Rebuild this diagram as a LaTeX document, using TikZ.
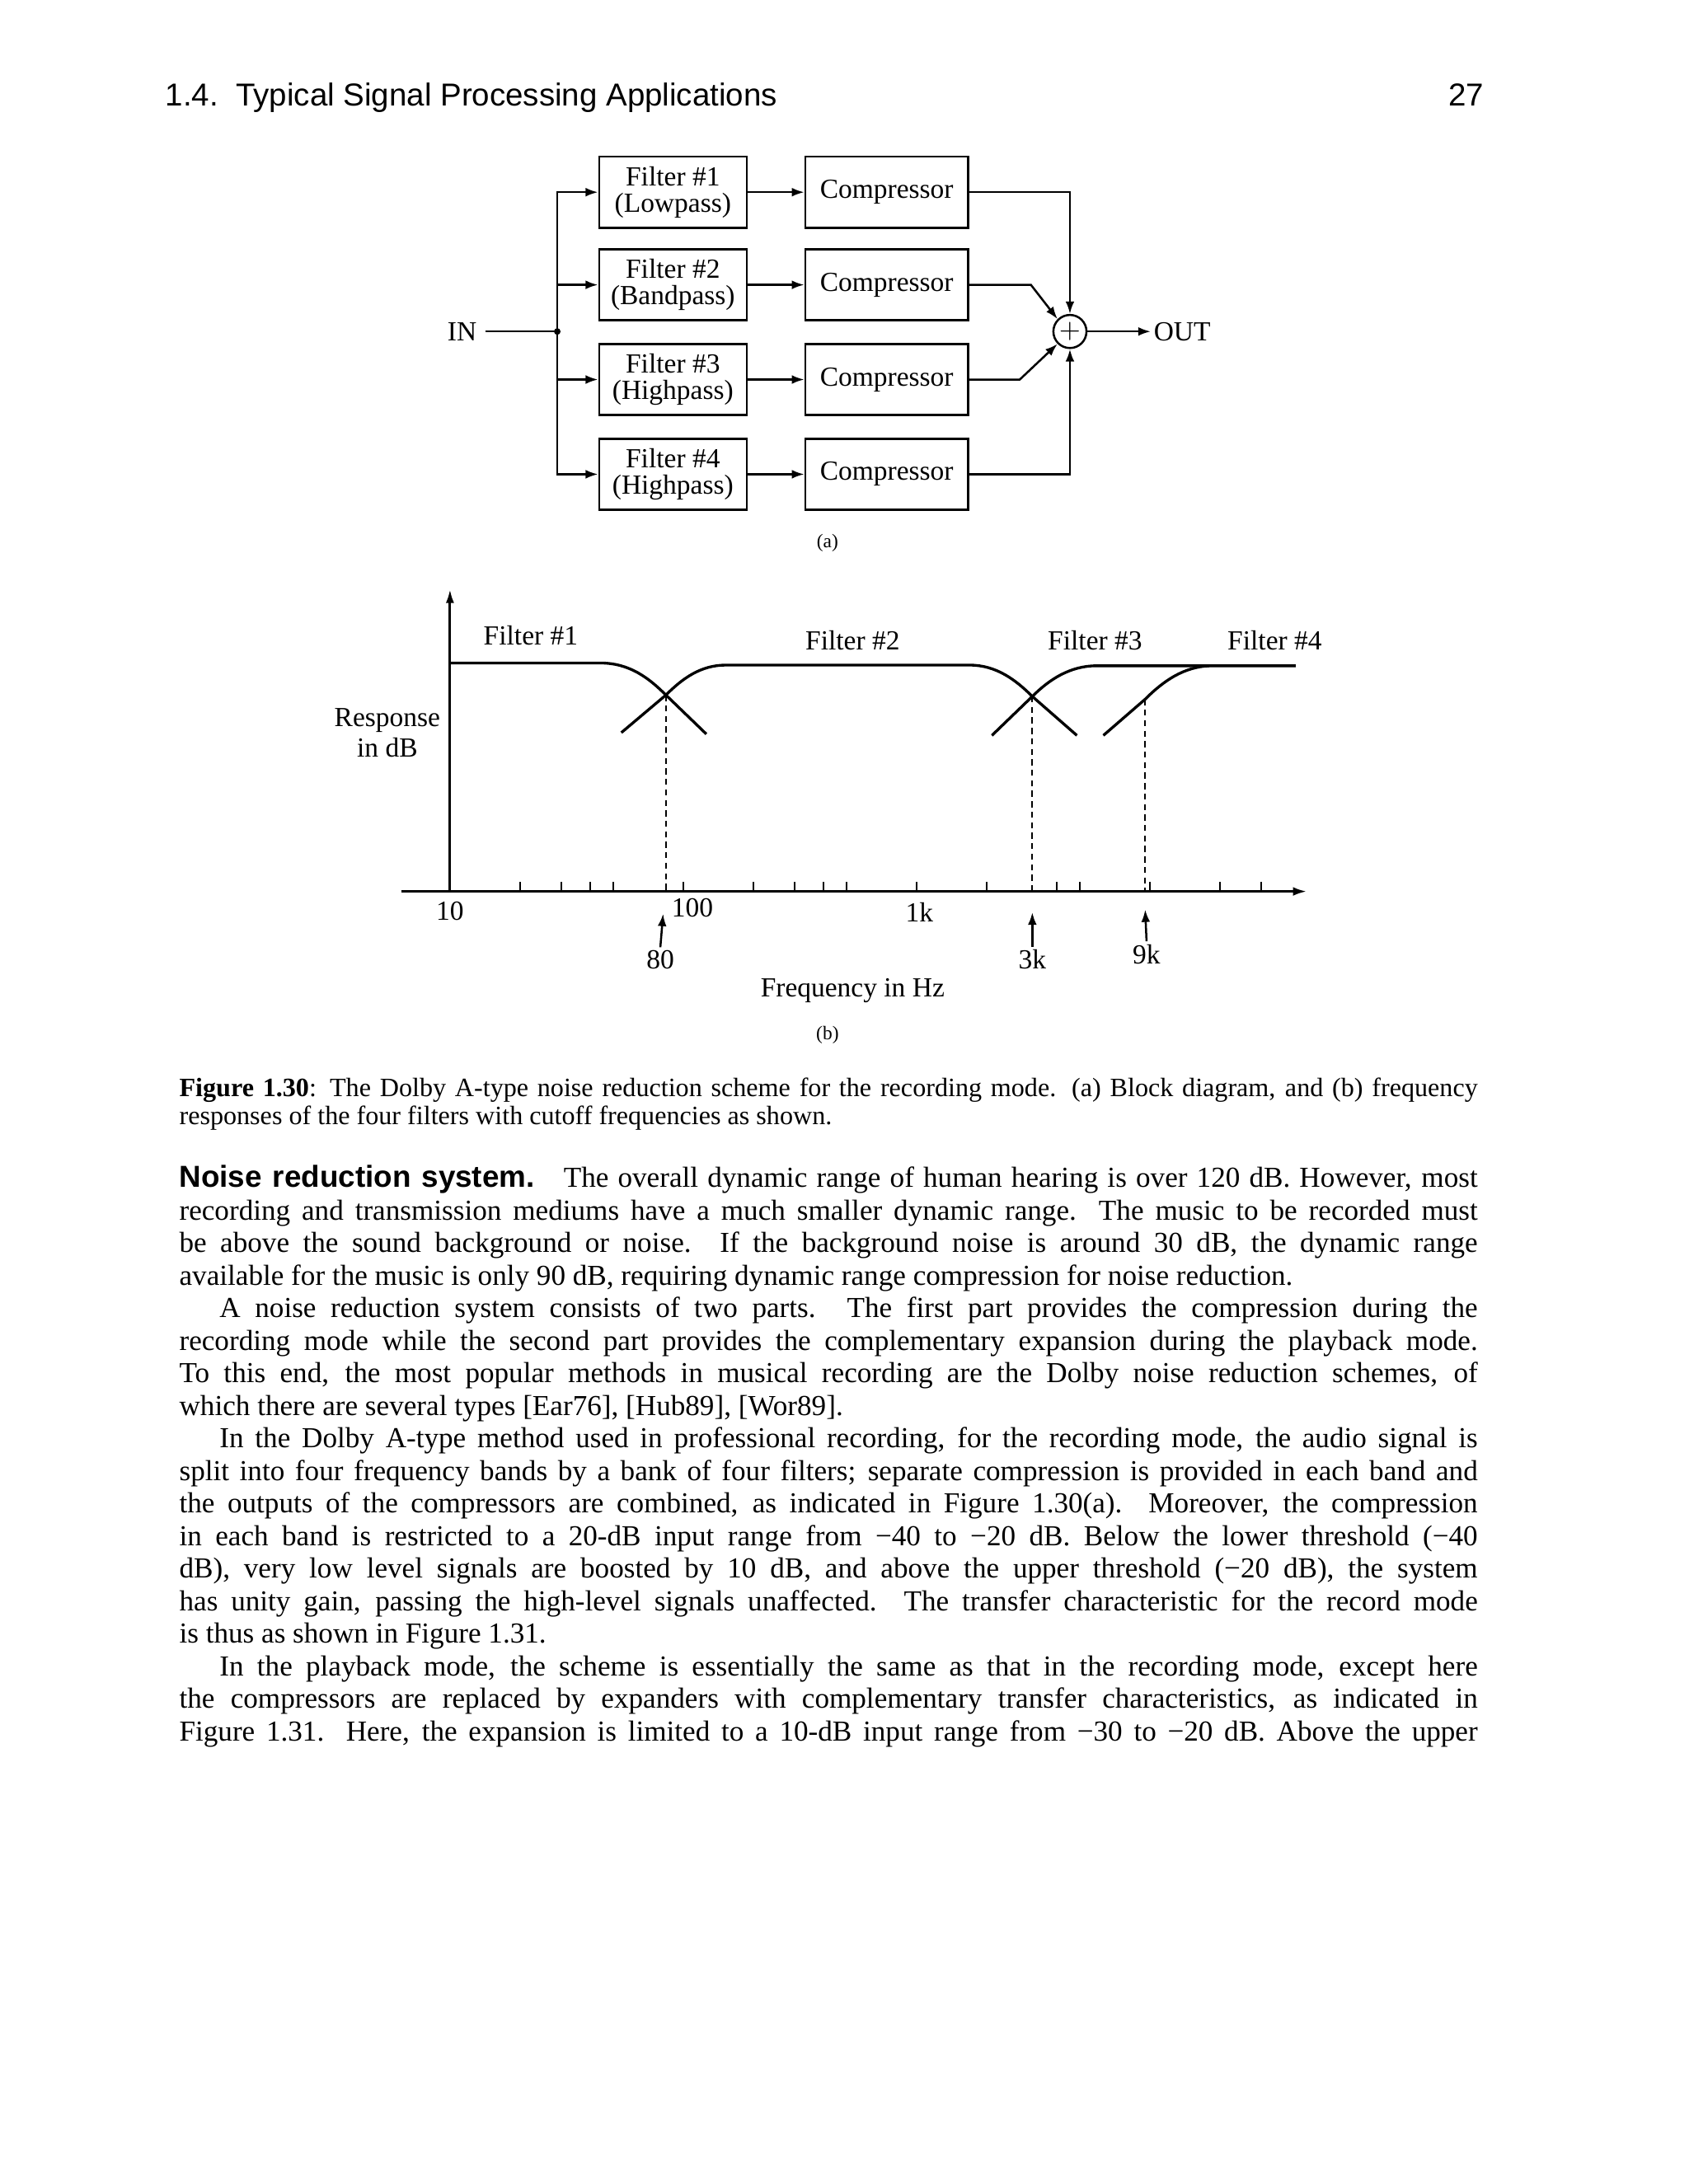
\documentclass[tikz,border=0pt]{standalone}
\usepackage{fontspec}
\setmainfont{Liberation Serif}
\newfontfamily\headfont{Liberation Sans}
\usetikzlibrary{arrows.meta}

\tikzset{every picture/.style={line width=0.75pt}}
\tikzset{
  fbox/.style={draw, minimum width=53.5pt, minimum height=25.75pt, inner sep=0pt, align=center, font=\fontsize{10}{9.6}\selectfont},
  cbox/.style={fbox, minimum width=59pt},
  lbl/.style={inner sep=0.75pt, font=\fontsize{10}{11}\selectfont},
  tiny/.style={inner sep=0.75pt, font=\fontsize{7}{8}\selectfont},
  sig/.style={-{Latex[length=4.5pt,width=3.2pt]}},
  curve/.style={line width=1pt},
  guide/.style={dash pattern=on 2.2pt off 1.6pt, line width=0.6pt},
  axis/.style={line width=0.9pt},
  tick/.style={line width=0.6pt},
}

\begin{document}
\begin{tikzpicture}[x=0.50495pt,y=0.50495pt,yscale=-1,xscale=1]
        \useasboundingbox (0,0) rectangle (1212,1568);

        % running head
        \node [anchor=base west, inner sep=0pt, font=\headfont\fontsize{11.5}{12}\selectfont] (head) at (118,76) {1.4.\ \ Typical Signal Processing Applications};
        \node [anchor=base east, inner sep=0pt, font=\headfont\fontsize{11.5}{12}\selectfont] (pgno) at (1066,76) {27};

        % (a) block diagram
        \node [fbox] (f1) at (483,138) {Filter \#1\\(Lowpass)};
        \node [fbox] (f2) at (483,204.5) {Filter \#2\\(Bandpass)};
        \node [fbox] (f3) at (483,272.5) {Filter \#3\\(Highpass)};
        \node [fbox] (f4) at (483,340.5) {Filter \#4\\(Highpass)};
        \node [cbox] (c1) at (636.5,138) {Compressor};
        \node [cbox] (c2) at (636.5,204.5) {Compressor};
        \node [cbox] (c3) at (636.5,272.5) {Compressor};
        \node [cbox] (c4) at (636.5,340.5) {Compressor};
        \node [draw, circle, minimum size=12pt, inner sep=0pt, font=\fontsize{10}{10}\selectfont] (sum) at (768,238) {$+$};
        \node [lbl, anchor=west] (in) at (319,238) {IN};
        \node [lbl, anchor=west] (out) at (826,238) {OUT};
        \coordinate (split) at (400,238);
        \coordinate (k2) at (740,204.5);
        \coordinate (k3) at (732,272.5);

        \draw (in.east) ++(4,0) -- (split);
        \fill (split) circle (1.2pt);
        \draw [sig] (split) |- (f1.west);
        \draw [sig] (split) |- (f2.west);
        \draw [sig] (split) |- (f3.west);
        \draw [sig] (split) |- (f4.west);
        \draw [sig] (f1.east) -- (c1.west);
        \draw [sig] (f2.east) -- (c2.west);
        \draw [sig] (f3.east) -- (c3.west);
        \draw [sig] (f4.east) -- (c4.west);
        \draw [sig] (c1.east) -| (sum.north);
        \draw [sig] (c2.east) -- (k2) -- (sum.north west);
        \draw [sig] (c3.east) -- (k3) -- (sum.south west);
        \draw [sig] (c4.east) -| (sum.south);
        \draw [sig] (sum.east) -- (out.west);
        \node [tiny] (capa) at (594,390) {(a)};

        % (b) frequency responses
        \draw [axis, -{Latex[length=5pt,width=3pt]}] (323,640) -- (323,423);
        \draw [axis, -{Latex[length=5pt,width=3.2pt]}] (288,640) -- (938,640);
        \foreach \v in {1.301,1.477,1.602,1.699,2,2.301,2.477,2.602,2.699,3,3.301,3.602,3.699,4,4.301,4.477}
          \draw [tick] ({323+167.5*(\v-1)},640) -- ++(0,-7);

        \draw [curve] (323,476) -- (431,476) .. controls (452,476) and (466,487) .. (478,499) -- (507,527);
        \draw [curve] (446,526) -- (478,499) .. controls (490,487) and (503,477.5) .. (521,477.5) -- (696,477.5) .. controls (715,477.5) and (729,488) .. (741,500) -- (773,528);
        \draw [curve] (712,528) -- (741,500) .. controls (753,488) and (768,478) .. (787,478) -- (930,478);
        \draw [curve] (792,528) -- (822,502) .. controls (836,488) and (850,479) .. (868,478);

        \coordinate (x80) at (478,499);
        \coordinate (x3k) at (741,500);
        \coordinate (x9k) at (822,502);
        \draw [guide] (x80) -- (478,640);
        \draw [guide] (x3k) -- (741,640);
        \draw [guide] (x9k) -- (822,640);

        \node [lbl] (t10) at (323,654) {10};
        \node [lbl] (t100) at (497,652) {100};
        \node [lbl] (t1k) at (660,655) {1k};
        \node [lbl] (l80) at (474,689) {80};
        \node [lbl] (l3k) at (741,689) {3k};
        \node [lbl] (l9k) at (823,685) {9k};
        \coordinate (a80) at (476,656);
        \coordinate (a3k) at (741,655);
        \coordinate (a9k) at (822,653);
        \draw [sig] (l80.north) -- (a80);
        \draw [sig] (l3k.north) -- (a3k);
        \draw [sig] (l9k.north) -- (a9k);

        \node [lbl] (n1) at (381,456) {Filter \#1};
        \node [lbl] (n2) at (612,460) {Filter \#2};
        \node [lbl] (n3) at (786,460) {Filter \#3};
        \node [lbl] (n4) at (915,460) {Filter \#4};
        \node [lbl, align=center] (resp) at (278,526) {Response\\in dB};
        \node [lbl] (freq) at (612,711) {Frequency in Hz};
        \node [tiny] (capb) at (594,743) {(b)};

        % caption
        \node [anchor=north west, inner sep=0pt, text width=470.6pt, align=justify, font=\fontsize{9.6}{10.1}\selectfont] (caption) at (128,773) {\hyphenpenalty=10000 \tolerance=10000 \textbf{Figure 1.30}: The Dolby A-type noise reduction scheme for the recording mode. (a) Block diagram, and (b) frequency\linebreak responses of the four filters with cutoff frequencies as shown.};

        % body text
        \node [anchor=north west, inner sep=0pt, text width=470.6pt, align=justify, font=\fontsize{10.5}{11.8}\selectfont] (body) at (128,836) {\hyphenpenalty=10000 \exhyphenpenalty=10000 \tolerance=10000 \parindent=14.6pt
\noindent{\headfont\bfseries\fontsize{11}{11.8}\selectfont Noise reduction system.}\quad The overall dynamic range of human hearing is over 120 dB. However, most\linebreak
recording and transmission mediums have a much smaller dynamic range. The music to be recorded must\linebreak
be above the sound background or noise. If the background noise is around 30 dB, the dynamic range\linebreak
available for the music is only 90 dB, requiring dynamic range compression for noise reduction.\par
A noise reduction system consists of two parts. The first part provides the compression during the\linebreak
recording mode while the second part provides the complementary expansion during the playback mode.\linebreak
To this end, the most popular methods in musical recording are the Dolby noise reduction schemes, of\linebreak
which there are several types [Ear76], [Hub89], [Wor89].\par
In the Dolby A-type method used in professional recording, for the recording mode, the audio signal is\linebreak
split into four frequency bands by a bank of four filters; separate compression is provided in each band and\linebreak
the outputs of the compressors are combined, as indicated in Figure 1.30(a). Moreover, the compression\linebreak
in each band is restricted to a 20-dB input range from −40 to −20 dB. Below the lower threshold (−40\linebreak
dB), very low level signals are boosted by 10 dB, and above the upper threshold (−20 dB), the system\linebreak
has unity gain, passing the high-level signals unaffected. The transfer characteristic for the record mode\linebreak
is thus as shown in Figure 1.31.\par
{\parfillskip=0pt In the playback mode, the scheme is essentially the same as that in the recording mode, except here\linebreak
the compressors are replaced by expanders with complementary transfer characteristics, as indicated in\linebreak
Figure 1.31. Here, the expansion is limited to a 10-dB input range from −30 to −20 dB. Above the upper\par}};
\end{tikzpicture}
\end{document}
